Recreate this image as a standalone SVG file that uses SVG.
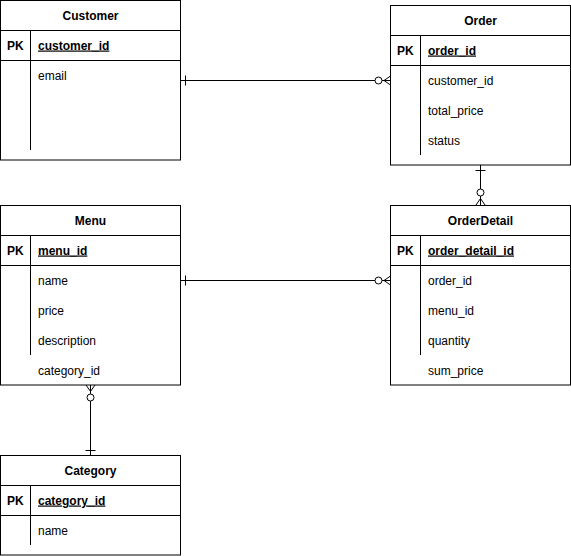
<svg xmlns="http://www.w3.org/2000/svg" width="571" height="556" viewBox="0 0 571 556">
<style>
.box{fill:#fff;stroke:#000;stroke-width:1}
.ln{stroke:#000;stroke-width:1;fill:none}
.t{font-family:"Liberation Sans",Arial,sans-serif;font-size:12px;fill:#000}
.h{font-weight:bold;text-anchor:middle}
.b{font-weight:bold}
.u{font-weight:bold;text-decoration:underline}
.c{fill:#fff;stroke:#000;stroke-width:1}
</style>
<rect width="571" height="556" fill="#fff"/>
<g id="connectors">
  <!-- Customer - Order -->
  <path class="ln" d="M180.5 80.5H375"/>
  <path class="ln" d="M185.5 75.5V85.5"/>
  <circle class="c" cx="378.5" cy="80.5" r="3.5"/>
  <path class="ln" d="M382 80.5H390.5M384 80.5L390.5 76M384 80.5L390.5 85"/>
  <!-- Menu - OrderDetail -->
  <path class="ln" d="M180.5 280.5H375"/>
  <path class="ln" d="M185.5 275.5V285.5"/>
  <circle class="c" cx="378.5" cy="280.5" r="3.5"/>
  <path class="ln" d="M382 280.5H390.5M384 280.5L390.5 276M384 280.5L390.5 285"/>
  <!-- Order - OrderDetail -->
  <path class="ln" d="M480.5 165V189"/>
  <path class="ln" d="M475.5 170.5H485.5"/>
  <circle class="c" cx="480.5" cy="192.5" r="3.5"/>
  <path class="ln" d="M480.5 196V205M480.5 198.5L476 205M480.5 198.5L485 205"/>
  <!-- Menu - Category -->
  <path class="ln" d="M90.5 385V394"/>
  <path class="ln" d="M90.5 391.5L86 385M90.5 391.5L95 385"/>
  <circle class="c" cx="90.5" cy="397.5" r="3.5"/>
  <path class="ln" d="M90.5 401V455"/>
  <path class="ln" d="M85.5 450.5H95.5"/>
</g>
<g id="customer">
  <rect class="box" x="0.5" y="0.5" width="180" height="159.5"/>
  <path class="ln" d="M0.5 30.5H180.5M0.5 60.5H180.5M30.5 30.5V150"/>
  <text class="t h" x="90.5" y="19.5">Customer</text>
  <text class="t b" x="7" y="49.5">PK</text>
  <text class="t u" x="38" y="49.5">customer_id</text>
  <text class="t" x="38" y="79.5">email</text>
</g>
<g id="order">
  <rect class="box" x="390.5" y="5.5" width="180" height="159.5"/>
  <path class="ln" d="M390.5 35.5H570.5M390.5 65.5H570.5M420.5 35.5V155"/>
  <text class="t h" x="480.5" y="24.5">Order</text>
  <text class="t b" x="397" y="54.5">PK</text>
  <text class="t u" x="428" y="54.5">order_id</text>
  <text class="t" x="428" y="84.5">customer_id</text>
  <text class="t" x="428" y="114.5">total_price</text>
  <text class="t" x="428" y="144.5">status</text>
</g>
<g id="menu">
  <rect class="box" x="0.5" y="205.5" width="180" height="179.5"/>
  <path class="ln" d="M0.5 235.5H180.5M0.5 265.5H180.5M30.5 235.5V355"/>
  <text class="t h" x="90.5" y="224.5">Menu</text>
  <text class="t b" x="7" y="254.5">PK</text>
  <text class="t u" x="38" y="254.5">menu_id</text>
  <text class="t" x="38" y="284.5">name</text>
  <text class="t" x="38" y="314.5">price</text>
  <text class="t" x="38" y="344.5">description</text>
  <text class="t" x="38" y="374.5">category_id</text>
</g>
<g id="orderdetail">
  <rect class="box" x="390.5" y="205.5" width="180" height="179.5"/>
  <path class="ln" d="M390.5 235.5H570.5M390.5 265.5H570.5M420.5 235.5V355"/>
  <text class="t h" x="480.5" y="224.5">OrderDetail</text>
  <text class="t b" x="397" y="254.5">PK</text>
  <text class="t u" x="428" y="254.5">order_detail_id</text>
  <text class="t" x="428" y="284.5">order_id</text>
  <text class="t" x="428" y="314.5">menu_id</text>
  <text class="t" x="428" y="344.5">quantity</text>
  <text class="t" x="428" y="374.5">sum_price</text>
</g>
<g id="category">
  <rect class="box" x="0.5" y="455.5" width="180" height="99.5"/>
  <path class="ln" d="M0.5 485.5H180.5M0.5 515.5H180.5M30.5 485.5V545"/>
  <text class="t h" x="90.5" y="474.5">Category</text>
  <text class="t b" x="7" y="504.5">PK</text>
  <text class="t u" x="38" y="504.5">category_id</text>
  <text class="t" x="38" y="534.5">name</text>
</g>
</svg>
